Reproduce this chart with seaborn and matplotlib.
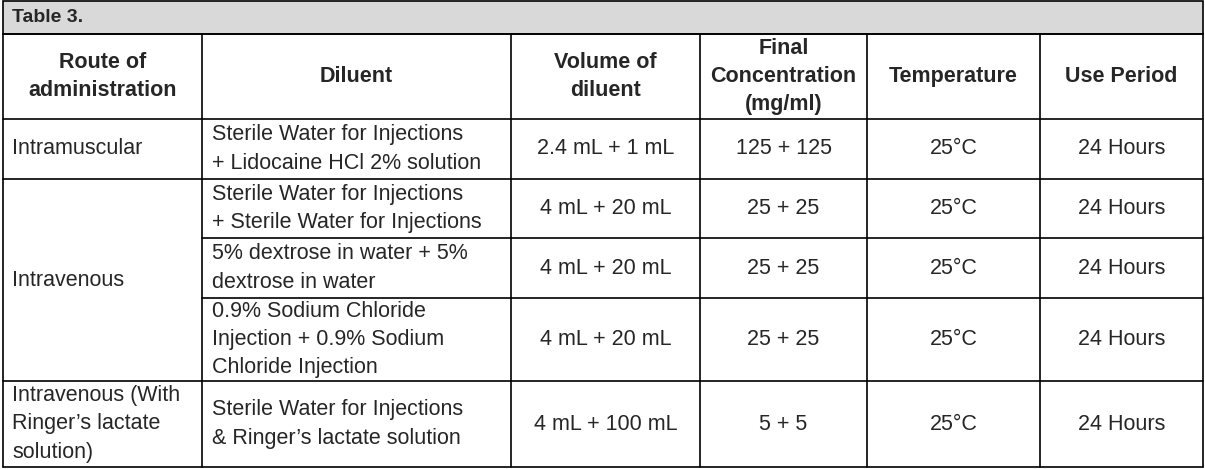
import matplotlib
matplotlib.use("Agg")
import matplotlib.pyplot as plt
import seaborn as sns

sns.set_theme(style="white")
plt.rcParams['font.family'] = ['Liberation Sans', 'DejaVu Sans']

title = "Table 3."
headers = ["Route of\nadministration", "Diluent", "Volume of\ndiluent",
           "Final\nConcentration\n(mg/ml)", "Temperature", "Use Period"]
diluents = ["Sterile Water for Injections\n+ Lidocaine HCl 2% solution",
            "Sterile Water for Injections\n+ Sterile Water for Injections",
            "5% dextrose in water + 5%\ndextrose in water",
            "0.9% Sodium Chloride\nInjection + 0.9% Sodium\nChloride Injection",
            "Sterile Water for Injections\n& Ringer\u2019s lactate solution"]
volumes = ["2.4 mL + 1 mL", "4 mL + 20 mL", "4 mL + 20 mL", "4 mL + 20 mL", "4 mL + 100 mL"]
concentrations = ["125 + 125", "25 + 25", "25 + 25", "25 + 25", "5 + 5"]
temperatures = ["25\u00b0C"] * 5
periods = ["24 Hours"] * 5
routes = ["Intramuscular", "Intravenous", "Intravenous (With\nRinger\u2019s lactate\nsolution)"]
route_spans = [(0, 1), (1, 4), (4, 5)]

W, H = 1205, 469
cols = [3, 202, 511, 700, 867, 1040, 1203]
rows = [119, 179, 238, 298, 381, 467]
fig = plt.figure(figsize=(W/100, H/100), dpi=100)
ax = fig.add_axes([0, 0, 1, 1])
ax.set_xlim(0, W); ax.set_ylim(H, 0); ax.axis('off')

lw = 1.2
ax.add_patch(plt.Rectangle((cols[0], 1), cols[-1]-cols[0], 33, facecolor='#d9d9d9', edgecolor='black', lw=lw))
ax.text(12, 18, title, fontsize=14, fontweight='bold', va='center', ha='left')
ax.plot([cols[0], cols[-1]], [34, 34], color='black', lw=lw)
span_starts = {a for a, b in route_spans} | {5}
for k, y in enumerate(rows):
    x0 = cols[0] if k in span_starts else cols[1]
    ax.plot([x0, cols[-1]], [y, y], color='black', lw=lw)
for x in cols:
    ax.plot([x, x], [34, rows[-1]], color='black', lw=lw)
fs = 15.5
ls = 1.45
for j, h in enumerate(headers):
    ax.text((cols[j]+cols[j+1])/2, (34+119)/2, h, fontsize=fs, fontweight='bold',
            ha='center', va='center', linespacing=ls)
for r, (a, b) in zip(routes, route_spans):
    ax.text(12, (rows[a]+rows[b])/2, r, fontsize=fs, ha='left', va='center', linespacing=ls)
for i in range(5):
    yc = (rows[i]+rows[i+1])/2
    ax.text(212, yc, diluents[i], fontsize=fs, ha='left', va='center', linespacing=ls)
    for j, vals in zip(range(2, 6), [volumes, concentrations, temperatures, periods]):
        ax.text((cols[j]+cols[j+1])/2, yc, vals[i], fontsize=fs, ha='center', va='center')
fig.savefig("out.png", dpi=100)
